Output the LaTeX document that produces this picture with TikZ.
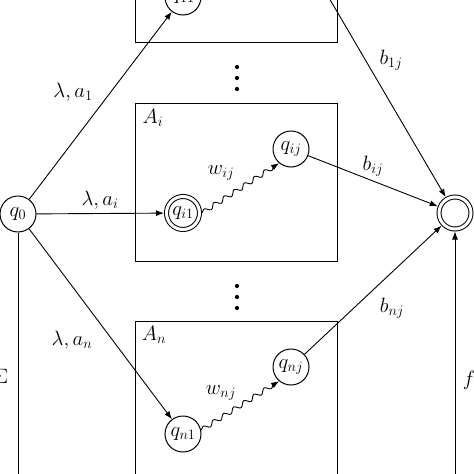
\documentclass[tikz,border=0pt]{standalone}
\usetikzlibrary{arrows.meta,decorations.pathmorphing}
\begin{document}
\begin{tikzpicture}[x=1pt,y=-1pt,
  every node/.style={font=\huge},
  state/.style={circle,draw,line width=1pt,minimum size=36pt,inner sep=0pt},
  dstate/.style={circle,draw,line width=1pt,double,double distance=3pt,minimum size=33pt,inner sep=0pt,outer sep=2.5pt},
  acc/.style={circle,draw,line width=1pt,double,double distance=3pt,minimum size=32pt,inner sep=0pt,outer sep=2.5pt},
  edge/.style={line width=0.9pt,-{Latex[length=8pt,width=6pt]}},
  snk/.style={edge,decorate,decoration={snake,amplitude=2.3pt,segment length=12pt,post length=5pt}},
  box/.style={draw,line width=1pt},
  lbl/.style={inner sep=1pt}]
\useasboundingbox (0,0) rectangle (474,474);
\clip (0,0) rectangle (474,474);
% boxes
\draw[box] (135,-200) rectangle (337,42);
\draw[box] (135,103) rectangle (337,261);
\draw[box] (135,321) rectangle (337,700);
% states
\node[state] (q0) at (18,214) {$q_0$};
\node[state] (q11) at (183,-3) {$q_{11}$};
\node[state] (q1j) at (291,-67) {};
\node[dstate] (qi1) at (183,213) {$q_{i1}$};
\node[state] (qij) at (291,149) {$q_{ij}$};
\node[state] (qn1) at (183,434) {$q_{n1}$};
\node[state] (qnj) at (291,367) {$q_{nj}$};
\node[acc] (fin) at (455,213) {};
\coordinate (sb) at (18,540);
\coordinate (fb) at (455,540);
% edges
\draw[edge] (q0) -- (q11);
\draw[edge] (q0) -- (qi1);
\draw[edge] (q0) -- (qn1);
\draw[snk] (qi1.east) -- (qij.230);
\draw[snk] (qn1.12) -- (qnj.230);
\draw[edge] (q1j) -- (fin);
\draw[edge] (qij) -- (fin);
\draw[edge] (qnj) -- (fin);
\draw[line width=0.9pt] (q0) -- (sb);
\draw[edge] (fb) -- (fin);
% dots
\foreach \yy in {67,78,89,286,297,308} \fill (237,\yy) circle (2.1pt);
% labels
\node[lbl] (la1) at (73,92) {$\lambda,a_1$};
\node[lbl] (lai) at (100,200) {$\lambda,a_i$};
\node[lbl] (lan) at (72,340) {$\lambda,a_n$};
\node[lbl] (wij) at (221,173) {$w_{ij}$};
\node[lbl] (wnj) at (221,393) {$w_{nj}$};
\node[lbl] (b1j) at (391,60) {$b_{1j}$};
\node[lbl] (bij) at (373,166) {$b_{ij}$};
\node[lbl] (bnj) at (392,308) {$b_{nj}$};
\node[lbl] (Ai) at (153,118) {$A_i$};
\node[lbl] (An) at (154,335) {$A_n$};
\node[lbl] (fl) at (469,380) {$f$};
\node[lbl] (sl) at (1,376) {$\Sigma$};
\end{tikzpicture}
\end{document}
